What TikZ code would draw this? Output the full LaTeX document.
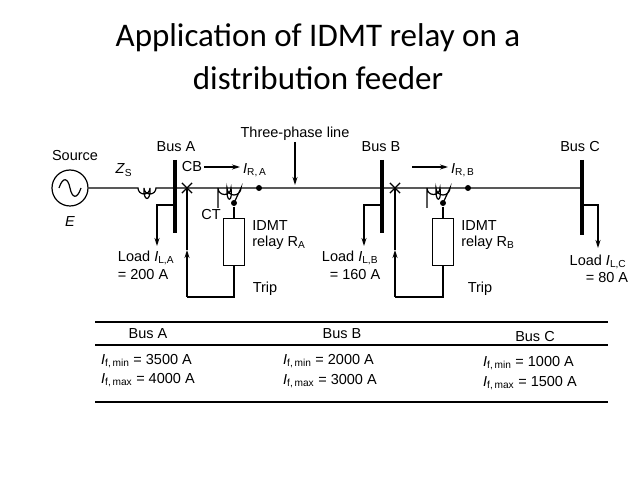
\documentclass[tikz,border=0pt]{standalone}
\usepackage{fontspec}
\setmainfont{Liberation Sans}
\newfontfamily\titlefont{Carlito}
\usetikzlibrary{positioning,shapes,shapes.misc,arrows.meta}
\tikzset{
    lbl/.style={font=\fontsize{14.5}{16}\selectfont, inner sep=1pt},
    bus/.style={line width=3.5pt},
    wire/.style={line width=1.2pt},
    arr/.style={wire, -{Stealth[length=8pt,width=5pt]}},
    relay/.style={draw, wire, minimum width=21pt, minimum height=47pt, inner sep=0pt},
    rule/.style={line width=1.5pt},
    dot/.style={circle, fill, inner sep=0pt, minimum size=6pt},
    brk/.style={cross out, draw, wire, minimum size=9pt, inner sep=0pt}
}
\newcommand{\cur}[1]{\textit{I}\textsubscript{#1}}
\begin{document}
\begin{tikzpicture}[x=1pt,y=-1pt]
    \useasboundingbox (0,0) rectangle (638,478);
    % title
    \node[font=\titlefont\fontsize{33}{36}\selectfont] (title1) at (318,38) {Application of IDMT relay on a};
    \node[font=\titlefont\fontsize{33}{36}\selectfont] (title2) at (318,78) {distribution feeder};

    % source and main line
    \node[draw, wire, circle, minimum size=36pt] (src) at (70,188) {};
    \draw[wire] (59,188) .. controls (63,176) and (68,178) .. (70,188) .. controls (72,198) and (77,200) .. (81,188);
    \node[lbl] (srclbl) at (75,156) {Source};
    \node[lbl] (e) at (70,222) {\textit{E}};
    \node[lbl] (zs) at (124,170) {\textit{Z}\textsubscript{S}};
    \coordinate (zs1) at (138,188);
    \coordinate (lineend) at (582,188);
    \draw[wire] (src.east) -- (zs1)
        arc[start angle=180, end angle=0, radius=6]
        .. controls (151,202) and (143,202) .. (144,188)
        arc[start angle=180, end angle=0, radius=6] -- (lineend);

    % buses
    \draw[bus] (175,160) coordinate (busAt) -- (175,233) coordinate (busAb);
    \draw[bus] (382,160) coordinate (busBt) -- (382,233) coordinate (busBb);
    \draw[bus] (582,160) coordinate (busCt) -- (582,235) coordinate (busCb);
    \node[lbl] (busA) at (176,147) {Bus A};
    \node[lbl] (busB) at (381,147) {Bus B};
    \node[lbl] (busC) at (580,147) {Bus C};

    % loads
    \draw[arr] (175,205) -| (157,246);
    \draw[arr] (382,205) -| (364,246);
    \draw[arr] (582,205) -| (598,248);
    \node[lbl] (loadA) at (146,258) {Load \cur{L,A}};
    \node[lbl] (valA) at (143,275) {= 200 A};
    \node[lbl] (loadB) at (350,258) {Load \cur{L,B}};
    \node[lbl] (valB) at (355,275) {= 160 A};
    \node[lbl] (loadC) at (598,262) {Load \cur{L,C}};
    \node[lbl] (valC) at (607,278) {= 80 A};

    % three-phase line
    \node[lbl] (tpl) at (295,134) {Three-phase line};
    \draw[arr] (tpl.south) -- (295,185);

    % relays A and B
    \foreach \n/\cb/\ct/\sub/\tripx in {A/187/218/A/265, B/395/427/B/480}{
        \node[brk] (cb\n) at (\cb,188) {};
        \draw[wire] (\ct,208) -- (\ct,188)
            arc[start angle=180, end angle=0, radius=6.5]
            .. controls (\ct+15,203) and (\ct+8,203) .. (\ct+9,188)
            arc[start angle=180, end angle=0, radius=7] -- (\ct+16,203) node[dot] (tap\n) {};
        \node[dot] (pt\n) at (\ct+41,188) {};
        \node[relay, below=15pt of tap\n.center, anchor=north] (relay\n) {};
        \draw[wire] (tap\n) -- (relay\n.north);
        \node[lbl, align=left, anchor=north west] (rlbl\n) at ([xshift=6pt,yshift=-1pt]relay\n.north east)
            {IDMT\\relay R\textsubscript{\sub}};
        \draw[wire] (relay\n.south) |- (\cb,297) coordinate (tr\n);
        \draw[arr] (tr\n) -- (\cb,250);
        \draw[wire] (\cb,250) -- (cb\n.center);
        \node[lbl] (trip\n) at (\tripx,289) {Trip};
        \draw[arr] (\cb+17,167) -- (\cb+53,167);
        \node[lbl, anchor=west] (ir\n) at (\cb+55,170) {\cur{R,\,\sub}};
    }
    \node[lbl] (cblbl) at (192,167) {CB};
    \node[lbl] (ctlbl) at (211,215) {CT};

    % table
    \draw[rule] (95,322) -- (608,322);
    \draw[rule] (95,345) -- (608,345);
    \draw[rule] (95,402) -- (608,402);
    \node[lbl] (thA) at (148,334) {Bus A};
    \node[lbl] (thB) at (342,334) {Bus B};
    \node[lbl] (thC) at (535,337) {Bus C};
    \foreach \x/\ya/\yb/\mn/\mx in {100/361/380/3500/4000, 282/361/381/2000/3000, 482/363/383/1000/1500}{
        \node[lbl, anchor=west] at (\x,\ya) {\cur{f,\,min} = \mn\ A};
        \node[lbl, anchor=west] at (\x,\yb) {\cur{f,\,max} = \mx\ A};
    }
\end{tikzpicture}
\end{document}
